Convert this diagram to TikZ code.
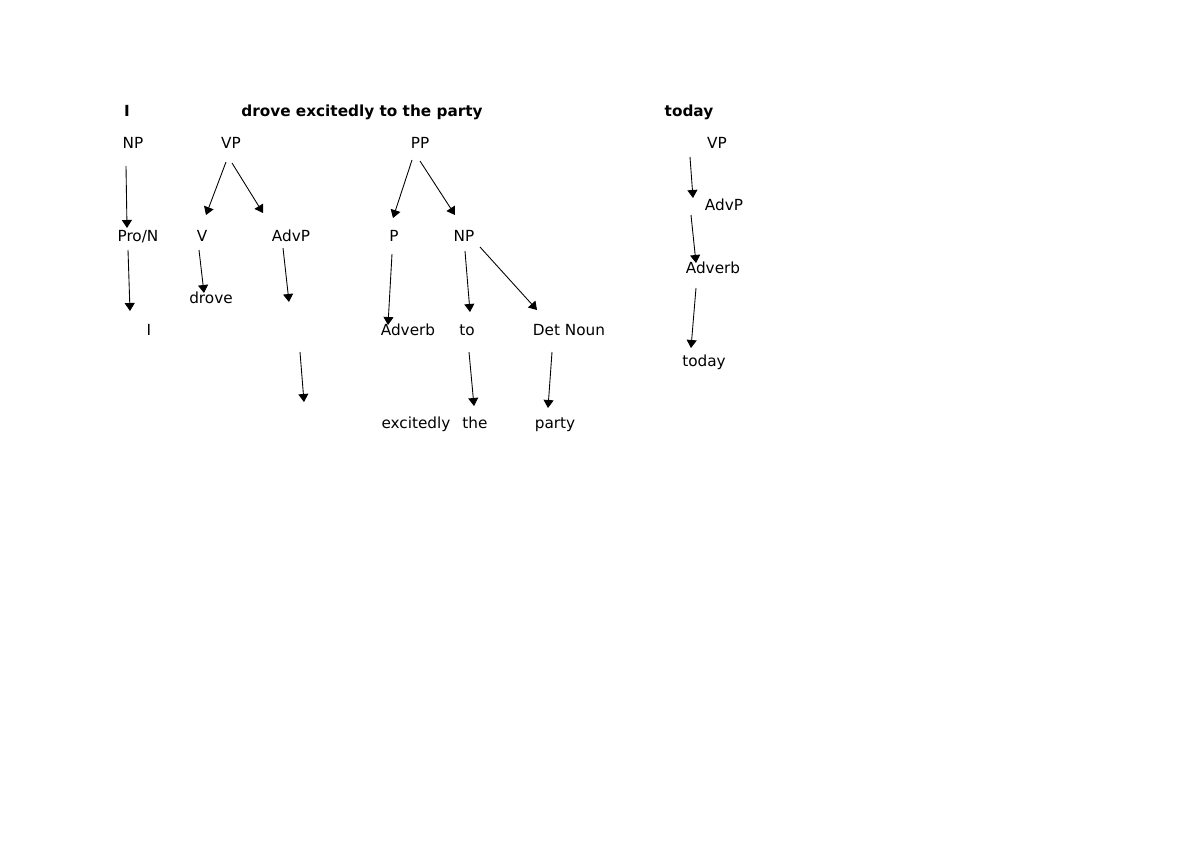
\documentclass[tikz,border=0pt]{standalone}
\usepackage{fontspec}
\setmainfont{DejaVu Sans}
\usetikzlibrary{arrows.meta}
\tikzset{
    word/.style={inner sep=0pt, anchor=base, font=\fontsize{8.7}{10}\selectfont},
    head/.style={word, font=\fontsize{8.7}{10}\selectfont\bfseries},
    arr/.style={line width=0.5pt, -{Triangle[length=1.6mm, width=2mm]}}}

\begin{document}
\begin{tikzpicture}[x=0.02cm, y=-0.02cm]
        \useasboundingbox (0,0) rectangle (1200,849);

                    % sentence
                    \node[head] (Hi) at (127,116.5) {I};
                    \node[head] (Hvp) at (362,116.5) {drove excitedly to the party};
                    \node[head] (Hadv) at (689,116.5) {today};

                    % phrases
                    \node[word] (NPa) at (133,148.5) {NP};
                    \node[word] (VPa) at (231,148.5) {VP};
                    \node[word] (PP) at (420,148.5) {PP};
                    \node[word] (VPb) at (717,148.5) {VP};
                    \node[word] (AdvPb) at (724,210.5) {AdvP};
                    \node[word] (ProN) at (138,241.5) {Pro/N};
                    \node[word] (V) at (202,241.5) {V};
                    \node[word] (AdvPa) at (291,241.5) {AdvP};
                    \node[word] (P) at (394,241.5) {P};
                    \node[word] (NPb) at (464,241.5) {NP};
                    \node[word] (Adverbb) at (713,273.5) {Adverb};

                    % words
                    \node[word] (drove) at (211,303.5) {drove};
                    \node[word] (I) at (149,335) {I};
                    \node[word] (Adverba) at (408,335) {Adverb};
                    \node[word] (to) at (467,335) {to};
                    \node[word] (DetNoun) at (569,335) {Det Noun};
                    \node[word] (today) at (704,366.5) {today};
                    \node[word] (excitedly) at (416,428) {excitedly};
                    \node[word] (the) at (475,428) {the};
                    \node[word] (party) at (555,428) {party};

                    % arrow ends
                    \coordinate (NPa-s) at (126,166);   \coordinate (ProN-t) at (127,228);
                    \coordinate (VPa-s) at (226,162);   \coordinate (V-t) at (206,215);
                    \coordinate (VPa-r) at (232,163);   \coordinate (AdvPa-t) at (263,213);
                    \coordinate (ProN-s) at (128,250);  \coordinate (I-t) at (130,311);
                    \coordinate (V-s) at (199,250);     \coordinate (drove-t) at (204,293);
                    \coordinate (AdvPa-s) at (283,248); \coordinate (AdvPa-e) at (289,302);
                    \coordinate (free-s) at (300,352);  \coordinate (free-e) at (304,402);
                    \coordinate (PP-s) at (412,160);    \coordinate (P-t) at (393,218);
                    \coordinate (PP-r) at (420,161);    \coordinate (NPb-t) at (455,215);
                    \coordinate (P-s) at (392,254);     \coordinate (Adverba-t) at (388,325);
                    \coordinate (NPb-s) at (465,251);   \coordinate (to-t) at (470,312);
                    \coordinate (NPb-r) at (480,247);   \coordinate (DetNoun-t) at (537,310);
                    \coordinate (to-s) at (469,352);    \coordinate (the-t) at (474,406);
                    \coordinate (DetNoun-s) at (552,352); \coordinate (party-t) at (548,408);
                    \coordinate (VPb-s) at (690,157);   \coordinate (AdvPb-t) at (693,198);
                    \coordinate (AdvPb-s) at (691,215); \coordinate (Adverbb-t) at (696,263);
                    \coordinate (Adverbb-s) at (696,288); \coordinate (today-t) at (691,348);

                    \draw[arr] (NPa-s) -- (ProN-t);
                    \draw[arr] (VPa-s) -- (V-t);
                    \draw[arr] (VPa-r) -- (AdvPa-t);
                    \draw[arr] (ProN-s) -- (I-t);
                    \draw[arr] (V-s) -- (drove-t);
                    \draw[arr] (AdvPa-s) -- (AdvPa-e);
                    \draw[arr] (free-s) -- (free-e);
                    \draw[arr] (PP-s) -- (P-t);
                    \draw[arr] (PP-r) -- (NPb-t);
                    \draw[arr] (P-s) -- (Adverba-t);
                    \draw[arr] (NPb-s) -- (to-t);
                    \draw[arr] (NPb-r) -- (DetNoun-t);
                    \draw[arr] (to-s) -- (the-t);
                    \draw[arr] (DetNoun-s) -- (party-t);
                    \draw[arr] (VPb-s) -- (AdvPb-t);
                    \draw[arr] (AdvPb-s) -- (Adverbb-t);
                    \draw[arr] (Adverbb-s) -- (today-t);

                \end{tikzpicture}
\end{document}
